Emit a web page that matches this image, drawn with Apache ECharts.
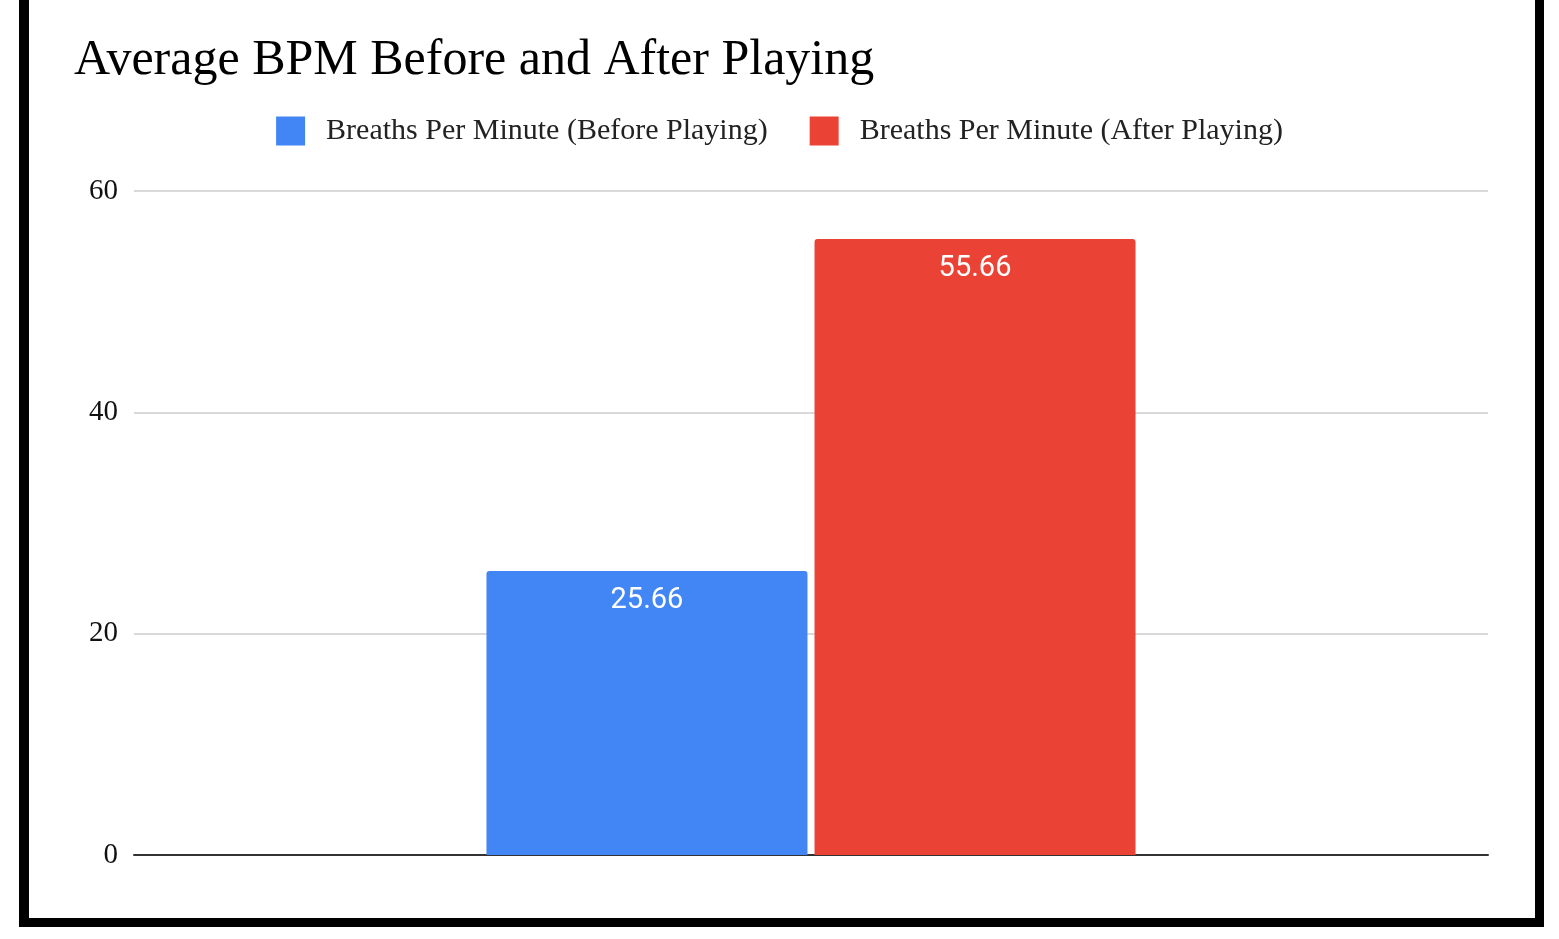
<!DOCTYPE html>
<html>
<head>
<meta charset="utf-8">
<script src="https://cdn.jsdelivr.net/npm/echarts@6/dist/echarts.min.js"></script>
<style>
  html, body { margin: 0; padding: 0; background: #fff; }
  #chart { position: absolute; left: 0; top: 0; width: 1559px; height: 939px; }
  #frame { position: absolute; left: 19px; top: 0; width: 1506px; height: 918px;
           border-left: 10px solid #000; border-right: 9px solid #000; border-bottom: 9px solid #000;
           pointer-events: none; }
</style>
</head>
<body>
<div id="chart"></div>
<div id="frame"></div>
<script>
const titleText = 'Average BPM Before and After Playing';
const categories = [''];
const seriesNames = ['Breaths Per Minute (Before Playing)', 'Breaths Per Minute (After Playing)'];
const beforeValues = [25.66];
const afterValues = [55.66];
const yTicks = [0, 20, 40, 60];

const chart = echarts.init(document.getElementById('chart'), null, { renderer: 'canvas' });
const serif = '"Liberation Serif", "Times New Roman", serif';
const labelStyle = {
  show: true, position: 'insideTop', distance: 15, color: '#fff',
  fontFamily: 'Roboto, "Noto Sans", sans-serif', fontSize: 29,
  formatter: p => p.value.toFixed(2)
};
chart.setOption({
  backgroundColor: '#fff',
  animation: false,
  title: {
    text: titleText, left: 69, top: 31,
    textStyle: { fontFamily: serif, fontSize: 50, fontWeight: 'normal', color: '#000' }
  },
  legend: {
    top: 111, left: 'center', itemWidth: 29, itemHeight: 29, itemGap: 42,
    icon: 'rect',
    textStyle: { fontFamily: serif, fontSize: 30, color: '#222', padding: [0, 0, 0, 16] },
    data: seriesNames
  },
  grid: { left: 134, right: 71, top: 191, bottom: 84, containLabel: false },
  xAxis: {
    type: 'category', data: categories,
    axisLine: { show: true, lineStyle: { color: '#333', width: 2 } },
    axisTick: { show: false }, axisLabel: { show: false }
  },
  yAxis: {
    type: 'value', min: yTicks[0], max: yTicks[yTicks.length - 1], interval: 20,
    axisLine: { show: false }, axisTick: { show: false },
    axisLabel: { fontFamily: serif, fontSize: 29, color: '#111', margin: 16 },
    splitLine: { lineStyle: { color: '#cccccc', width: 1.5 } }
  },
  series: [
    { name: seriesNames[0], type: 'bar', data: beforeValues, barWidth: 321, barGap: '2.2%',
      itemStyle: { color: '#4285f4', borderRadius: [3, 3, 0, 0] }, label: labelStyle },
    { name: seriesNames[1], type: 'bar', data: afterValues, barWidth: 321,
      itemStyle: { color: '#ea4335', borderRadius: [3, 3, 0, 0] }, label: labelStyle }
  ]
});
</script>
</body>
</html>
